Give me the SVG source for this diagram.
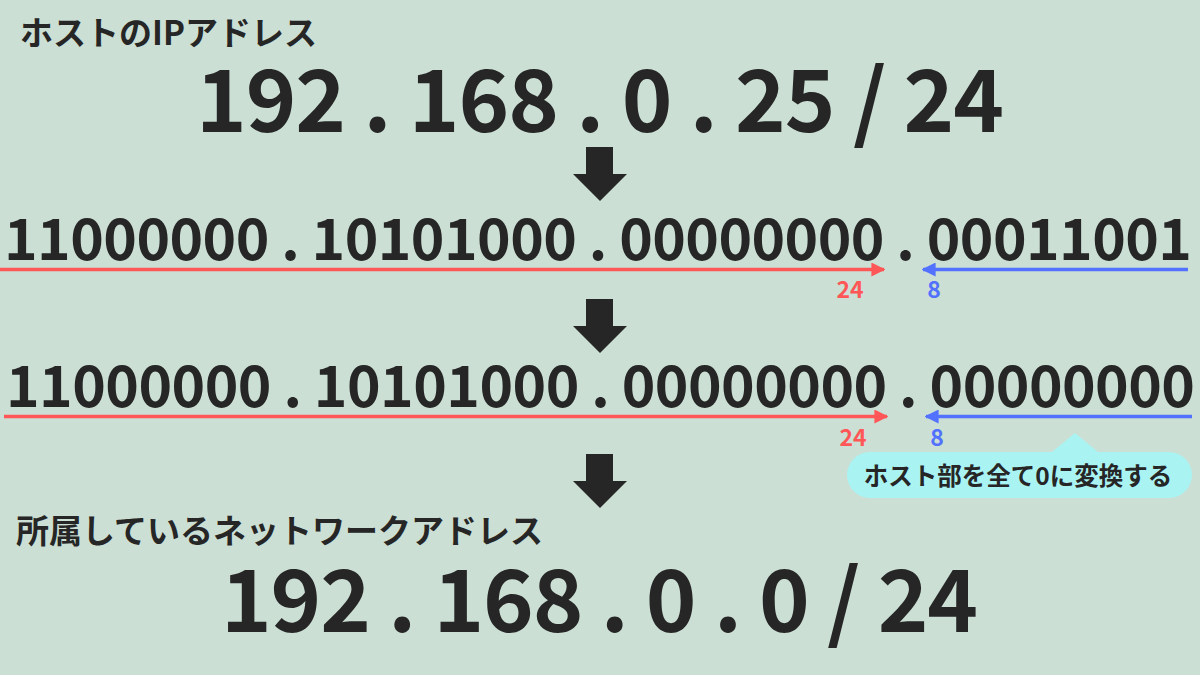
<svg xmlns="http://www.w3.org/2000/svg" width="1200" height="675" viewBox="0 0 1200 675">
<defs>
<style>
.t{font-family:"Noto Sans CJK JP","Noto Sans",sans-serif;font-weight:700;fill:#262626}
.lbl{font-size:33px}
.big{font-size:86px}
.bin{font-size:57px}
.num{font-size:23px;text-anchor:middle;font-family:"Noto Sans CJK JP","Noto Sans",sans-serif;font-weight:700}
.red{stroke:#ff5757;stroke-width:3.5;fill:none}
.blue{stroke:#5271ff;stroke-width:3.5;fill:none}
.call{font-size:24.5px;text-anchor:middle}
</style>
<marker id="mr" markerWidth="4" markerHeight="4" refX="3.6" refY="2" orient="auto" markerUnits="strokeWidth" viewBox="0 0 4 4">
<path d="M0,0 L4,2 L0,4 Z" fill="#ff5757"/>
</marker>
<marker id="mb" markerWidth="4" markerHeight="4" refX="3.6" refY="2" orient="auto" markerUnits="strokeWidth" viewBox="0 0 4 4">
<path d="M0,0 L4,2 L0,4 Z" fill="#5271ff"/>
</marker>
<path id="down" d="M586,0 H613 V27 H627 L600,54 L573,27 H586 Z" fill="#262626"/>
</defs>
<rect width="1200" height="675" fill="#cbdfd4"/>

<g id="host-label"><text class="t lbl" x="20" y="45">ホストのIPアドレス</text></g>
<g id="host-ip"><text class="t big" x="196" y="132" textLength="808" lengthAdjust="spacing">192 . 168 . 0 . 25 / 24</text></g>

<g id="binary-host"><text class="t bin" x="4" y="260" textLength="1188" lengthAdjust="spacing">11000000 . 10101000 . 00000000 . 00011001</text></g>
<g id="binary-net"><text class="t bin" x="6" y="407" textLength="1189" lengthAdjust="spacing">11000000 . 10101000 . 00000000 . 00000000</text></g>

<g id="net-label"><text class="t lbl" x="16" y="543">所属しているネットワークアドレス</text></g>
<g id="net-ip"><text class="t big" x="221" y="632" textLength="757" lengthAdjust="spacing">192 . 168 . 0 . 0 / 24</text></g>

<g id="callout">
<path d="M870,452 H1052 L1075,433 L1098,452 H1169 A23,23 0 0 1 1192,475 A23,23 0 0 1 1169,498 H870 A23,23 0 0 1 847,475 A23,23 0 0 1 870,452 Z" fill="#aaf3f3"/>
<text class="t call" x="1018" y="485">ホスト部を全て0に変換する</text>
</g>

<g id="connectors">
<use href="#down" y="147"/>
<use href="#down" y="299"/>
<use href="#down" y="454"/>
<line class="red" x1="0" y1="269.5" x2="884" y2="269.5" marker-end="url(#mr)"/>
<line class="blue" x1="1188" y1="269.5" x2="923" y2="269.5" marker-end="url(#mb)"/>
<line class="red" x1="4" y1="416.5" x2="887" y2="416.5" marker-end="url(#mr)"/>
<line class="blue" x1="1192" y1="416.5" x2="926" y2="416.5" marker-end="url(#mb)"/>
<text class="num" x="850" y="298" fill="#ff5757">24</text>
<text class="num" x="934" y="298" fill="#5271ff">8</text>
<text class="num" x="853" y="446" fill="#ff5757">24</text>
<text class="num" x="937" y="446" fill="#5271ff">8</text>
</g>
</svg>
